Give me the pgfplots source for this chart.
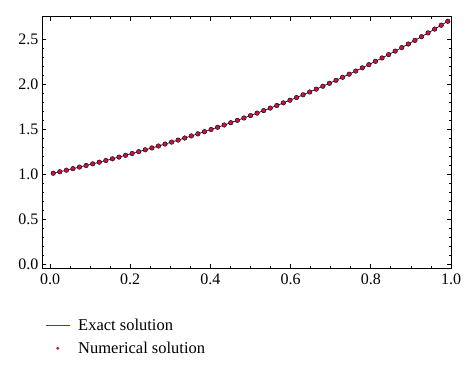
\documentclass[border=0pt]{standalone}
\usepackage{fontspec}
\setmainfont{Liberation Serif}
\usepackage{pgfplots}
\pgfplotsset{compat=1.18}
\usepackage{pgfplotstable}
\definecolor{exactc}{RGB}{60,60,170}
\definecolor{numc}{RGB}{200,20,60}
\pgfplotstableread{
x y
0.008 1.00803
0.0244 1.02470
0.0408 1.04164
0.0572 1.05886
0.0736 1.07637
0.09 1.09417
0.1064 1.11226
0.1228 1.13065
0.1392 1.14935
0.1556 1.16835
0.172 1.18767
0.1884 1.20731
0.2048 1.22727
0.2212 1.24756
0.2376 1.26819
0.254 1.28916
0.2704 1.31048
0.2868 1.33215
0.3032 1.35418
0.3196 1.37657
0.336 1.39933
0.3524 1.42247
0.3688 1.44599
0.3852 1.46990
0.4016 1.49421
0.418 1.51892
0.4344 1.54404
0.4508 1.56957
0.4672 1.59552
0.4836 1.62190
0.5 1.64872
0.5164 1.67598
0.5328 1.70369
0.5492 1.73186
0.5656 1.76050
0.582 1.78961
0.5984 1.81920
0.6148 1.84928
0.6312 1.87986
0.6476 1.91094
0.664 1.94254
0.6804 1.97466
0.6968 2.00731
0.7132 2.04050
0.7296 2.07424
0.746 2.10854
0.7624 2.14341
0.7788 2.17885
0.7952 2.21488
0.8116 2.25150
0.828 2.28873
0.8444 2.32658
0.8608 2.36505
0.8772 2.40416
0.8936 2.44391
0.91 2.48432
0.9264 2.52540
0.9428 2.56716
0.9592 2.60961
0.9756 2.65276
0.992 2.69662
}\numtable
\begin{document}
\begin{tikzpicture}
\path[use as bounding box] (-42pt,-108pt) rectangle (432pt,268pt);
\begin{axis}[
  at={(0pt,0pt)}, anchor=south west,
  scale only axis,
  width=409pt, height=252pt,
  xmin=-0.02, xmax=1.0,
  ymin=-0.045, ymax=2.755,
  xtick={0,0.2,...,1.0},
  ytick={0,0.5,...,2.5},
  minor x tick num=3,
  minor y tick num=4,
  tick align=inside,
  major tick length=4.5pt,
  minor tick length=2.5pt,
  axis line style={line width=0.9pt},
  every tick/.style={line width=0.8pt, black},
  /pgf/number format/assume math mode=true,
  /pgf/number format/fixed,
  /pgf/number format/fixed zerofill,
  /pgf/number format/precision=1,
  tick label style={font=\fontsize{16}{18}\selectfont},
  xticklabel style={yshift=-2pt},
  legend style={draw=none, at={(0.0,-0.185)}, anchor=north west,
    font=\fontsize{16.5}{19}\selectfont, row sep=6pt, column sep=6pt, fill=none},
  legend cell align=left,
]
\addplot[exactc, line width=0.6pt,
  legend image code/.code={\draw[exactc, line width=1pt] (0pt,0pt) -- (24pt,0pt);}]
  table[x=x,y=y] {\numtable};
\addlegendentry{Exact solution}
\addplot[only marks, mark=*, mark size=2.3pt, draw=none, fill=numc, mark options={draw=none, fill=numc}, 
  legend image code/.code={\fill[numc] (12pt,0pt) circle (1.6pt);}]
  table[x=x,y=y] {\numtable};
\addlegendentry{Numerical solution}
\addplot[black!60!exactc, line width=0.45pt, forget plot] table[x=x,y=y] {\numtable};
\end{axis}
\end{tikzpicture}
\end{document}
